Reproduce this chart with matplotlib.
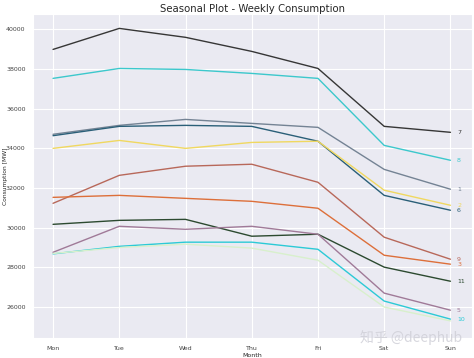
import numpy as np
import matplotlib
matplotlib.use('Agg')
import matplotlib.pyplot as plt
import seaborn as sns

sns.set_style('darkgrid')
plt.rcParams['font.family'] = ['DejaVu Sans', 'Noto Sans CJK SC']

days = ['Mon', 'Tue', 'Wed', 'Thu', 'Fri', 'Sat', 'Sun']

# Verbrauch pro Wochentag
s7 = [38990, 40050, 39600, 38890, 38030, 35110, 34810]
s8 = [37530, 38030, 37980, 37780, 37530, 34150, 33400]
s1 = [34710, 35160, 35460, 35260, 35060, 32940, 31940]
s6 = [34640, 35110, 35160, 35110, 34360, 31630, 30880]
s2 = [34000, 34400, 34000, 34300, 34360, 31890, 31130]
s9 = [31230, 32640, 33100, 33200, 32290, 29520, 28410]
s3 = [31530, 31630, 31480, 31330, 30980, 28610, 28160]
s11 = [30170, 30370, 30420, 29570, 29670, 28010, 27300]
s5 = [28760, 30070, 29920, 30070, 29670, 26700, 25840]
s10 = [28680, 29060, 29270, 29270, 28910, 26300, 25390]
s4 = [28700, 29000, 29170, 28970, 28360, 26000, 25300]

names = ['7', '8', '1', '6', '2', '9', '3', '11', '5', '10', '4']
series = [s7, s8, s1, s6, s2, s9, s3, s11, s5, s10, s4]
colors = ['#363636', '#3cc8cc', '#748394', '#2a5f78', '#f0d860', '#b8685a',
          '#dd6f3a', '#2c4a30', '#a07a98', '#2ccad6', '#d8f0cc']

fig, ax = plt.subplots(figsize=(4.74, 3.58), dpi=100)
x = np.arange(len(days))
for i, (n, s) in enumerate(zip(names, series)):
    ax.plot(x, s, color=colors[i], lw=1.0)
    if n != '4':
        ax.text(x[-1] + 0.1, s[-1], n, fontsize=4.5, color=colors[i], va='center')

ax.set_xticks(x)
ax.set_xticklabels(days)
ax.set_xlim(-0.3, 6.32)
ax.set_ylim(24440, 40760)
ax.set_yticks([26000, 28000, 30000, 32000, 34000, 36000, 38000, 40000])
ax.tick_params(labelsize=4.5, colors='#444444', pad=2)
ax.set_xlabel('Month', fontsize=4.5, labelpad=2)
ax.set_ylabel('Consumption [MW]', fontsize=4.3)
ax.yaxis.set_label_coords(-0.058, 0.5)
ax.set_title('Seasonal Plot - Weekly Consumption', fontsize=7.3, pad=2)

fig.text(0.975, 0.036, '知乎 @deephub', fontsize=10, color='#d0d0d8', alpha=0.85,
         ha='right', va='bottom', family=['Noto Sans CJK SC', 'DejaVu Sans'])

plt.subplots_adjust(left=0.07, right=0.995, bottom=0.056, top=0.96)
plt.savefig('out.png')
